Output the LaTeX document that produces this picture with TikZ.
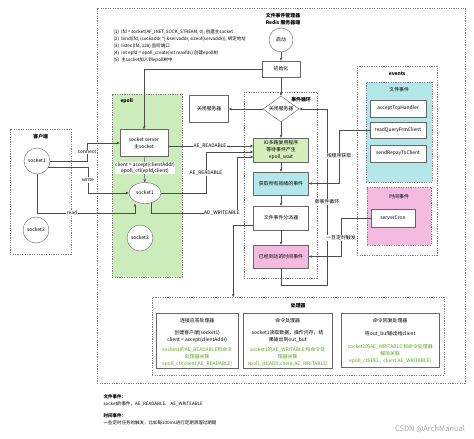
\documentclass[tikz,border=0pt]{standalone}
\usepackage{fontspec}
\setmainfont{Noto Sans CJK SC}
\usetikzlibrary{arrows.meta,positioning,shapes.geometric}
\definecolor{epollgreen}{RGB}{205,236,188}
\definecolor{waitgreen}{RGB}{212,238,188}
\definecolor{readycyan}{RGB}{180,231,234}
\definecolor{timepink}{RGB}{244,186,224}
\definecolor{hintgreen}{RGB}{88,168,28}

\begin{document}
\begin{tikzpicture}[x=1pt, y=-1pt, font=\fontsize{4.9}{6.6}\selectfont,
    box/.style={draw=black!60, fill=white, align=center, inner sep=1pt, minimum width=55, minimum height=24},
    grp/.style={draw=black!50, dash pattern=on 1.2pt off 1.2pt, inner sep=0pt},
    arr/.style={draw=black!70, -{Stealth[length=3.2pt,width=2.6pt]}},
    lbl/.style={fill=white, inner sep=0.6pt, align=center},
    ttl/.style={font=\fontsize{4.9}{6.8}\selectfont\bfseries},
    hint/.style={text=hintgreen, align=center}]
    \useasboundingbox (0,0) rectangle (474,439);

    % Groups
    \node[grp, minimum width=368, minimum height=375, anchor=north west] (mgr) at (97,8) {};
    \node[ttl, align=center] (mgrt) at (283,19.5) {文件事件管理器\\Redis 服务器端};
    \node[grp, minimum width=61, minimum height=125, anchor=north west] (cli) at (10,129) {};
    \node[ttl, below=2pt of cli.north] (clit) {客户端};
    \node[grp, fill=epollgreen, minimum width=70, minimum height=183, anchor=north west] (epoll) at (112,94) {};
    \node[ttl, anchor=north west] (epollt) at ([xshift=5pt,yshift=-1.5pt]epoll.north west) {epoll};
    \node[grp, minimum width=73, minimum height=186, anchor=north west] (loop) at (244,92) {};
    \node[ttl, anchor=north east] (loopt) at ([xshift=-3pt,yshift=-1.5pt]loop.north east) {事件循环};
    \node[grp, minimum width=80, minimum height=189, anchor=north west] (events) at (357,66) {};
    \node[ttl, below=2pt of events.north] (eventst) {events};
    \node[grp, fill=readycyan, minimum width=66, minimum height=100, anchor=north west] (fe) at (366,82) {};
    \node[below=2pt of fe.north] (fet) {文件事件};
    \node[grp, fill=timepink, minimum width=64, minimum height=58, anchor=north west] (te) at (367,187) {};
    \node[below=4pt of te.north] (tet) {时间事件};
    \node[grp, minimum width=292, minimum height=78, anchor=north west] (proc) at (152,297) {};
    \node[ttl, below=3pt of proc.north] (proct) {处理器};

    % Setup steps
    \node[anchor=north west, align=left, font=\fontsize{4.5}{7}\selectfont] (steps) at (110,26) {%
        (1)\enspace lfd = socket(AF\_INET, SOCK\_STREAM, 0); 创建主socket\\
        (2)\enspace bind(lfd, (sockaddr *) \&servaddr, sizeof(servaddr)); 绑定地址\\
        (3)\enspace listen(lfd, 128) 监听端口\\
        (4)\enspace int epfd = epoll\_create(int maxfds) 创建epoll树\\
        (5)\enspace 主socket加入到epoll树中};

    % Server side
    \node[draw=black!60, circle, minimum size=24] (start) at (281,40) {启动};
    \node[box, minimum width=38, minimum height=16] (init) at (281,69) {初始化};
    \node[box, minimum width=39, minimum height=27] (close) at (209,109) {关闭服务器};
    \node[draw=black!60, fill=white, diamond, aspect=1.4, inner sep=0pt, minimum width=36, minimum height=26] (dia) at (281,109) {关闭服务器};
    \node[box, fill=waitgreen] (wait) at (281,150) {IO多路复用程序\\等待事件产生\\epoll\_wait};
    \node[box, fill=readycyan, minimum height=23] (ready) at (281,183.5) {获取所有就绪的事件};
    \node[box] (disp) at (281,218) {文件事件分派器};
    \node[box, fill=timepink, minimum height=23] (timed) at (281,256.5) {已经到达的时间事件};

    % epoll
    \node[box, minimum width=48, minimum height=27] (srv) at (144,143) {socket server\\主socket};
    \node[draw=black!60, fill=white, ellipse, inner sep=0pt, minimum width=32, minimum height=21] (es1) at (145,193) {socket1};
    \node[draw=black!60, fill=white, circle, inner sep=0pt, minimum size=26] (es2) at (140,238) {socket2};

    % Clients
    \node[draw=black!60, fill=white, circle, inner sep=0pt, minimum size=26] (cs1) at (37,161) {socket1};
    \node[draw=black!60, fill=white, circle, inner sep=0pt, minimum size=26] (cs2) at (36,230) {socket2};

    % Events
    \node[box, minimum width=56, minimum height=17] (acc) at (398,108.5) {acceptTcpHandler};
    \node[box, minimum width=56, minimum height=16] (rd) at (398,130) {readQueryFrmClient};
    \node[box, minimum width=56, minimum height=17] (snd) at (398,153.5) {sendRepayToClient};
    \node[box, minimum width=44, minimum height=18] (cron) at (393,218) {serverCron};

    % Handlers
    \node[box, minimum width=82, minimum height=55, anchor=north west] (p1) at (156,313) {};
    \node[box, minimum width=89, minimum height=55, anchor=north west] (p2) at (243,313) {};
    \node[box, minimum width=98, minimum height=54, anchor=north west] (p3) at (341,313) {};
    \node[below=1.5pt of p1.north] (p1t) {连接应答处理器};
    \node[below=1.5pt of p2.north] (p2t) {命令处理器};
    \node[below=1.5pt of p3.north] (p3t) {命令回复处理器};
    \node[align=center] (p1b) at ([yshift=-23.5pt]p1.north) {创建客户端(socket1)\\client = accept(clientAddr)};
    \node[align=center] (p2b) at ([yshift=-23pt]p2.north) {socket1读取数据，操作内存，结\\果输出到out\_buf};
    \node[align=center] (p3b) at ([yshift=-21pt]p3.north) {将out\_buf输出给client};
    \node[hint] (p1g) at ([yshift=-44pt]p1.north) {socket1的AE\_READABLE和命令\\处理器关联\\epoll\_ctl(client,AE\_READABLE)};
    \node[hint] (p2g) at ([yshift=-44pt]p2.north) {socket1的AE\_WRITABLE 和命令处\\理器关联\\epoll\_ctl(ADD,client,AE\_WRITABLE)};
    \node[hint] (p3g) at ([yshift=-41pt]p3.north) {socket1的AE\_WRITABLE 和命令处理器\\解除关联\\epoll\_ctl(DEL,\enspace client,AE\_WRITABLE)};

    % Arrows
    \draw[arr] (start) -- (init);
    \draw[arr] (init) -- (dia);
    \draw[arr] (init.west) -| (srv.north);
    \draw[arr] (dia.west) -- (close.east);
    \draw[arr] (dia) -- (wait);
    \draw[arr] (wait) -- (ready);
    \draw[arr] (ready) -- (disp);
    \draw[arr] (disp) -- (timed);
    \coordinate (lp) at (327,285);
    \draw[arr] (timed.south) |- (lp) |- (dia.east);
    \draw[arr] (srv) -- (es1);
    \draw[arr] ([yshift=-3pt]srv.east) -- ([yshift=4pt]wait.west);
    \draw[arr] (es1.east) -- ++(45,0) |- ([yshift=-2pt]wait.west);
    \coordinate (wb) at (237,213);
    \draw[arr] (es1.-60) |- (wb) |- ([yshift=-7pt]wait.west);
    \draw[arr] ([yshift=-7pt]disp.west) -| ([xshift=-65pt]proc.north);
    \draw[arr] (cs1.east) -- ++(37,0) |- (srv.west);
    \draw[arr] (cs1.-30) -- ++(40,0) |- (es1.west);
    \draw[arr] (cs1.south) -- ++(0,39) -| ([xshift=-10pt]es1.south);
    \draw[arr] (rd.west) -- ++(-31,0) |- (ready.east);
    \draw[arr] (cron.west) -- ++(-30,0) |- (timed.east);

    % Labels
    \node[lbl] (accl) at (145,168) {client = accept(clientAddr)\\epoll\_ctl(epfd,client)};
    \node[lbl] (conl) at (87,152) {connect};
    \node[lbl] (wrl) at (88,180) {write};
    \node[lbl] (rdl) at (72,213) {read};
    \node[lbl] (ar1) at (210,146) {AE\_READABLE};
    \node[lbl] (ar2) at (206,173) {AE\_READABLE};
    \node[lbl] (awl) at (222,213) {AD\_WRITEABLE};
    \node[lbl] (newl) at (327,202) {新事件循环};
    \node[lbl] (seql) at (339,156) {按顺序获取};
    \node[lbl] (trgl) at (341,238) {一旦定时触发};

    % Notes
    \node[anchor=west, align=left, font=\fontsize{4.5}{7}\selectfont] (fnote) at (100,400.5) {\textbf{文件事件：}\\socket的事件，AE\_READABLE、 AE\_WRITEABLE};
    \node[anchor=west, align=left, font=\fontsize{4.5}{7}\selectfont] (tnote) at (100,419.5) {\textbf{时间事件：}\\一些定时任务的触发，比如每100ms进行定期清理过期键};
    \node[text=black!35, font=\fontsize{7.5}{8}\selectfont] (mark) at (430,429) {CSDN @ArchManual};
\end{tikzpicture}
\end{document}
